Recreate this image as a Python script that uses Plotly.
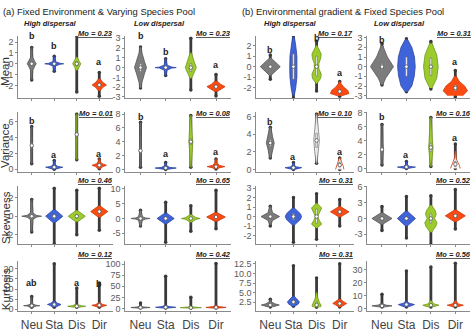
import plotly.graph_objects as go

W, H = 474, 332

categories = ["Neu", "Sta", "Dis", "Dir"]
row_titles = ["Mean", "Variance", "Skewness", "Kurtosis"]
group_titles = ["(a) Fixed Environment & Varying Species Pool",
                "(b) Environmental gradient & Fixed Species Pool"]
dispersal_titles = ["High dispersal", "Low dispersal", "High dispersal", "Low dispersal"]

# ---- stats per violin: [low, q1, median, q3, high] ; shapes: (y, half-width) ----
# Row 1: Mean
mean_fe_high_stats = [[-1.5, -0.15, 0.0, 0.15, 1.5], [-0.7, -0.05, 0.0, 0.05, 0.7],
                      [-2.6, -0.2, 0.0, 0.2, 2.6], [-3.0, -2.05, -1.95, -1.85, -0.8]]
mean_fe_high_shape = [[(-1.5, .02), (-0.6, .05), (-0.2, .14), (0, .2), (0.2, .14), (0.6, .05), (1.5, .02)],
                      [(-0.7, .02), (-0.2, .06), (-0.05, .25), (0, .42), (0.05, .25), (0.2, .06), (0.7, .02)],
                      [(-0.6, .03), (-0.2, .12), (0, .18), (0.2, .12), (0.6, .03)],
                      [(-2.5, .04), (-2.2, .15), (-1.95, .32), (-1.7, .15), (-1.4, .04)]]
mean_fe_low_stats = [[-2.1, -0.4, 0.0, 0.4, 2.1], [-0.8, -0.05, 0.0, 0.05, 0.9],
                     [-2.3, -0.4, 0.0, 0.4, 3.0], [-2.9, -2.1, -1.95, -1.8, -0.7]]
mean_fe_low_shape = [[(-2.1, .03), (-1.5, .06), (-0.6, .16), (0, .24), (0.6, .16), (1.5, .06), (2.1, .03)],
                     [(-0.8, .02), (-0.25, .06), (-0.05, .25), (0, .42), (0.05, .25), (0.25, .06), (0.9, .02)],
                     [(-1.1, .03), (-0.6, .12), (0, .22), (0.7, .12), (1.5, .03)],
                     [(-2.45, .05), (-2.2, .18), (-1.95, .36), (-1.7, .18), (-1.4, .05)]]
mean_eg_high_stats = [[-1.2, -0.2, 0.0, 0.2, 1.1], [-3.0, -1.2, 0.0, 1.2, 2.9],
                      [-2.3, -0.9, 0.0, 1.0, 2.4], [-2.8, -2.5, -2.35, -2.2, -1.4]]
mean_eg_high_shape = [[(-0.85, .02), (0, .43), (0.85, .02)],
                      [(-2.7, .04), (-2.0, .1), (-1.0, .15), (0, .16), (1.0, .15), (2.0, .1), (2.8, .04)],
                      [(-1.6, .02), (-1.1, .18), (-0.7, .2), (-0.2, .1), (0.3, .1), (0.8, .18), (1.2, .2), (1.6, .1), (2.0, .02)],
                      [(-2.75, .1), (-2.55, .4), (-2.25, .35), (-1.95, .18), (-1.6, .05), (-1.4, .02)]]
mean_eg_low_stats = [[-1.9, -0.3, 0.0, 0.3, 2.4], [-2.6, -1.0, 0.0, 1.0, 2.9],
                     [-2.3, -0.9, 0.0, 0.9, 2.6], [-3.1, -2.5, -2.2, -1.9, -0.4]]
mean_eg_low_shape = [[(-1.9, .03), (-1.2, .15), (0, .47), (1.0, .22), (2.2, .03)],
                     [(-2.6, .05), (-2.0, .22), (-1.0, .32), (0, .36), (1.0, .33), (2.0, .22), (2.8, .05)],
                     [(-2.2, .05), (-1.2, .24), (0, .3), (1.2, .24), (2.4, .05)],
                     [(-3.0, .3), (-2.5, .5), (-2.0, .38), (-1.5, .15), (-1.0, .04)]]

# Row 2: Variance
var_fe_high_stats = [[0.7, 2.7, 3.0, 3.3, 5.4], [0.0, 0.15, 0.25, 0.35, 1.1],
                     [1.2, 4.1, 4.4, 4.7, 7.0], [0.05, 0.35, 0.5, 0.65, 1.3]]
var_fe_high_shape = [[(0.7, .02), (2.2, .03), (3.0, .04), (3.8, .03), (5.4, .02)],
                     [(0.0, .05), (0.15, .2), (0.25, .38), (0.35, .15), (0.6, .04), (1.1, .02)],
                     [(1.2, .02), (3.6, .03), (4.4, .04), (5.2, .03), (7.0, .02)],
                     [(0.05, .05), (0.3, .15), (0.5, .32), (0.7, .12), (1.0, .04), (1.3, .02)]]
var_fe_low_stats = [[0.3, 2.4, 2.7, 3.0, 6.8], [0.0, 0.1, 0.2, 0.3, 1.0],
                    [0.3, 3.6, 4.0, 4.4, 7.8], [0.05, 0.25, 0.4, 0.55, 1.5]]
var_fe_low_shape = [[(0.3, .02), (1.8, .03), (2.7, .05), (3.6, .03), (6.8, .02)],
                    [(0.0, .05), (0.1, .2), (0.2, .42), (0.3, .15), (0.55, .04), (1.0, .02)],
                    [(0.3, .02), (2.8, .05), (4.0, .08), (5.2, .05), (7.8, .02)],
                    [(0.05, .05), (0.25, .15), (0.4, .35), (0.6, .12), (1.0, .04), (1.5, .02)]]
var_eg_high_stats = [[1.3, 2.6, 3.0, 3.4, 4.8], [0.0, 0.1, 0.2, 0.3, 0.8],
                     [0.7, 2.5, 3.3, 4.1, 6.3], [0.0, 0.3, 0.5, 0.8, 1.3]]
var_eg_high_shape = [[(1.3, .03), (2.3, .1), (3.0, .17), (3.7, .1), (4.8, .03)],
                     [(0.0, .05), (0.1, .2), (0.2, .36), (0.3, .12), (0.5, .04), (0.8, .02)],
                     [(0.7, .02), (2.0, .08), (3.3, .12), (4.5, .08), (6.3, .02)],
                     [(0.0, .18), (0.3, .16), (0.7, .1), (1.3, .02)]]
var_eg_low_stats = [[0.5, 2.4, 2.7, 3.0, 6.3], [0.0, 0.1, 0.2, 0.3, 1.0],
                    [0.3, 2.4, 3.0, 3.6, 7.3], [0.0, 0.3, 0.6, 1.0, 3.5]]
var_eg_low_shape = [[(0.5, .02), (1.8, .04), (2.7, .06), (3.6, .04), (6.3, .02)],
                    [(0.0, .05), (0.1, .2), (0.2, .37), (0.3, .12), (0.55, .04), (1.0, .02)],
                    [(0.3, .02), (1.8, .06), (3.0, .09), (4.2, .06), (7.3, .02)],
                    [(0.0, .2), (0.4, .17), (0.9, .1), (1.5, .03), (2.5, .01)]]

# Row 3: Skewness
skew_fe_high_stats = [[-1.7, -0.1, 0.0, 0.1, 1.8], [-3.0, -0.25, 0.0, 0.25, 3.0],
                      [-2.0, -0.2, 0.0, 0.2, 2.8], [-1.5, 0.3, 0.5, 0.7, 3.0]]
skew_fe_high_shape = [[(-1.7, .02), (-0.35, .06), (-0.1, .2), (0, .44), (0.1, .2), (0.35, .06), (1.8, .02)],
                      [(-0.7, .04), (0, .38), (0.7, .04)],
                      [(-0.6, .04), (0, .38), (0.6, .04)],
                      [(-0.1, .04), (0.5, .38), (1.1, .04)]]
skew_fe_low_stats = [[-2.5, -0.2, 0.0, 0.2, 2.8], [-8.0, -0.4, 0.0, 0.4, 5.5],
                     [-4.3, -0.3, 0.0, 0.3, 4.3], [-3.5, 0.1, 0.5, 0.9, 9.5]]
skew_fe_low_shape = [[(-2.6, .02), (-0.6, .08), (-0.2, .2), (0, .38), (0.2, .2), (0.6, .08), (2.8, .02)],
                     [(-1.8, .04), (0, .34), (1.8, .04)],
                     [(-1.3, .03), (-0.3, .2), (0, .37), (0.3, .2), (1.3, .03)],
                     [(-1.0, .04), (0.5, .37), (2.0, .04)]]
skew_eg_high_stats = [[-1.0, -0.1, 0.0, 0.1, 1.1], [-2.7, -0.3, 0.0, 0.3, 2.0],
                      [-2.4, -0.7, 0.0, 0.8, 2.4], [-1.0, 0.3, 0.5, 0.7, 1.8]]
skew_eg_high_shape = [[(-0.9, .02), (-0.4, .1), (0, .4), (0.4, .1), (1.1, .02)],
                      [(-0.9, .04), (-0.3, .3), (0, .35), (0.3, .3), (0.9, .04)],
                      [(-1.2, .02), (-0.8, .22), (-0.4, .12), (0, .05), (0.4, .12), (0.9, .22), (1.4, .02)],
                      [(-0.05, .03), (0.5, .4), (1.05, .03)]]
skew_eg_low_stats = [[-2.3, -0.2, 0.0, 0.2, 2.3], [-3.7, -0.3, 0.0, 0.3, 4.2],
                     [-5.0, -0.9, 0.0, 0.9, 4.3], [-2.0, 0.2, 0.5, 0.8, 5.5]]
skew_eg_low_shape = [[(-1.1, .03), (0, .41), (1.1, .03)],
                     [(-1.4, .04), (0, .37), (1.4, .04)],
                     [(-2.6, .03), (-1.5, .2), (-0.8, .25), (0, .15), (0.8, .22), (1.5, .18), (2.5, .03)],
                     [(-0.6, .04), (0.5, .41), (1.6, .04)]]

# Row 4: Kurtosis
kurt_fe_high_stats = [[1.0, 1.6, 1.8, 2.0, 6.3], [1.0, 2.0, 2.4, 3.0, 22.5],
                      [1.0, 1.3, 1.5, 1.7, 10.5], [1.0, 1.7, 2.0, 2.4, 13.0]]
kurt_fe_high_shape = [[(1.0, .05), (1.6, .2), (1.8, .36), (2.0, .2), (2.6, .04), (6.3, .01)],
                      [(1.0, .05), (2.0, .2), (2.4, .3), (3.0, .15), (4.0, .04)],
                      [(1.0, .1), (1.3, .3), (1.5, .4), (1.8, .2), (2.5, .04)],
                      [(1.0, .05), (1.7, .2), (2.0, .33), (2.4, .15), (3.2, .04)]]
kurt_fe_low_stats = [[1.0, 1.6, 2.0, 2.6, 12.0], [1.0, 2.0, 2.5, 3.0, 73.0],
                     [1.0, 1.3, 1.5, 1.8, 25.0], [1.0, 1.7, 2.2, 2.8, 102.0]]
kurt_fe_low_shape = [[(0.5, .05), (1.5, .3), (2.0, .38), (3.0, .15), (5.0, .03)],
                     [(0.5, .05), (1.5, .25), (2.5, .4), (4.0, .15), (7.0, .03)],
                     [(0.5, .05), (1.2, .3), (1.6, .42), (3.0, .12), (5.0, .02)],
                     [(0.5, .05), (1.5, .3), (2.2, .4), (4.0, .12), (7.0, .02)]]
kurt_eg_high_stats = [[1.3, 1.6, 1.8, 2.0, 3.3], [1.5, 2.2, 2.6, 3.0, 12.0],
                      [1.2, 1.5, 1.8, 2.6, 8.8], [1.3, 1.9, 2.2, 2.6, 12.5]]
kurt_eg_high_shape = [[(1.3, .1), (1.6, .3), (1.8, .39), (2.1, .2), (2.6, .05), (3.3, .01)],
                      [(1.5, .05), (2.0, .2), (2.6, .26), (3.2, .18), (4.0, .05)],
                      [(1.2, .15), (1.6, .2), (2.5, .12), (3.5, .06), (5.0, .02)],
                      [(1.3, .05), (1.9, .2), (2.2, .3), (2.6, .18), (3.3, .04)]]
kurt_eg_low_stats = [[1.0, 1.6, 2.0, 2.4, 11.0], [1.0, 2.3, 3.0, 3.6, 29.0],
                     [1.0, 1.8, 2.5, 3.0, 32.0], [1.0, 2.0, 2.5, 3.0, 35.0]]
kurt_eg_low_shape = [[(1.0, .05), (1.6, .3), (2.0, .41), (2.6, .15), (4.0, .02)],
                     [(1.0, .05), (2.3, .25), (3.0, .33), (4.0, .12), (6.0, .02)],
                     [(1.0, .05), (1.8, .25), (2.5, .33), (3.5, .12), (6.0, .02)],
                     [(1.0, .05), (2.0, .25), (2.5, .33), (3.5, .12), (6.0, .02)]]

# ---- axis ranges and ticks ----
y_ranges = [[[-3.16, 2.54], [-3.11, 3.2], [-2.97, 2.88], [-3.24, 3.14]],
            [[-0.36, 7.23], [-0.37, 8.26], [-0.29, 6.5], [-0.5, 8.04]],
            [[-3.0, 3.23], [-8.65, 10.9], [-2.9, 3.2], [-4.86, 6.13]],
            [[-1.06, 23.8], [-7.0, 107.0], [0.12, 13.2], [-2.36, 36.6]]]
y_ticks = [[[-2, -1, 0, 1, 2], [-3, -2, -1, 0, 1, 2, 3], [-2, -1, 0, 1, 2], [-3, -2, -1, 0, 1, 2, 3]],
           [[0, 2, 4, 6], [0, 2, 4, 6, 8], [0, 2, 4, 6], [0, 2, 4, 6, 8]],
           [[-2, 0, 2], [-5, 0, 5, 10], [-3, -2, -1, 0, 1, 2, 3], [-3, 0, 3, 6]],
           [[0, 5, 10, 15, 20], [0, 25, 50, 75, 100], [2.5, 5.0, 7.5, 10.0, 12.5], [0, 10, 20, 30]]]
y_ticktext = [[["-2", "-1", "0", "1", "2"], ["-3", "-2", "-1", "0", "1", "2", "3"],
               ["-2", "-1", "0", "1", "2"], ["-3", "-2", "-1", "0", "1", "2", "3"]],
              [["0", "2", "4", "6"], ["0", "2", "4", "6", "8"], ["0", "2", "4", "6"], ["0", "2", "4", "6", "8"]],
              [["-2", "0", "2"], ["-5", "0", "5", "10"], ["-3", "-2", "-1", "0", "1", "2", "3"], ["-3", "0", "3", "6"]],
              [["0", "5", "10", "15", "20"], ["0", "25", "50", "75", "100"],
               ["2.5", "5.0", "7.5", "10.0", "12.5"], ["0", "10", "20", "30"]]]

# ---- significance letters: (x, y, text) ----
letters = [[[(1, 2.54, "b"), (2, 1.67, "b"), (3, 2.63, "b"), (4, 0.18, "a")],
            [(1, 3.2, "b"), (2, 1.55, "b"), (3, 3.3, "b"), (4, 0.29, "a")],
            [(1, 1.62, "b"), (2, 2.97, "ab"), (3, 2.7, "b"), (4, -0.63, "a")],
            [(1, 2.75, "b"), (2, 3.24, "ab"), (3, 3.24, "ab"), (4, 0.49, "a")]],
           [[(1, 6.14, "b"), (2, 1.8, "a"), (3, 7.6, "c"), (4, 1.93, "a")],
            [(1, 7.58, "b"), (2, 2.23, "a"), (3, 8.67, "b"), (4, 2.5, "a")],
            [(1, 5.43, "b"), (2, 1.43, "a"), (3, 6.83, "b"), (4, 1.97, "a")],
            [(1, 7.34, "b"), (2, 1.93, "a"), (3, 8.42, "ab"), (4, 4.36, "a")]],
           [[(0.84, 3.44, "NS")], [(0.98, 11.5, "NS")], [(0.86, 3.5, "NS")], [(0.92, 6.85, "NS")]],
           [[(1, 13.2, "ab"), (2, 26.1, "b"), (3, 13.2, "a"), (4, 12.3, "b")],
            [(0.98, 117.5, "NS")], [(1.15, 14.4, "NS")], [(0.92, 39.8, "NS")]]]

mo_values = [["0.23", "0.23", "0.17", "0.31"],
             ["0.01", "0.08", "0.10", "0.16"],
             ["0.46", "0.65", "0.31", "0.52"],
             ["0.12", "0.42", "0.31", "0.56"]]

stats_grid = [[mean_fe_high_stats, mean_fe_low_stats, mean_eg_high_stats, mean_eg_low_stats],
              [var_fe_high_stats, var_fe_low_stats, var_eg_high_stats, var_eg_low_stats],
              [skew_fe_high_stats, skew_fe_low_stats, skew_eg_high_stats, skew_eg_low_stats],
              [kurt_fe_high_stats, kurt_fe_low_stats, kurt_eg_high_stats, kurt_eg_low_stats]]
shape_grid = [[mean_fe_high_shape, mean_fe_low_shape, mean_eg_high_shape, mean_eg_low_shape],
              [var_fe_high_shape, var_fe_low_shape, var_eg_high_shape, var_eg_low_shape],
              [skew_fe_high_shape, skew_fe_low_shape, skew_eg_high_shape, skew_eg_low_shape],
              [kurt_fe_high_shape, kurt_fe_low_shape, kurt_eg_high_shape, kurt_eg_low_shape]]

# ---- styling / layout (pixels) ----
FILL = ["#7c7c7c", "#3f63d8", "#9bcc2c", "#fb4a12"]
EDGE = ["#555555", "#2c45a0", "#6e9420", "#c83a0c"]
HOLLOW = {(1, 2, 2), (1, 2, 3), (1, 3, 3)}
COL_PX = [(18.2, 112.8), (125.4, 231.1), (256.4, 353.6), (367.3, 470.0)]
ROW_PX = [(33, 98), (113, 176), (191, 252), (270, 323)]
FONT = "Liberation Sans, Arial, sans-serif"

fig = go.Figure()
annotations = []
layout_axes = {}

for r in range(4):
    for c in range(4):
        k = r * 4 + c + 1
        xa = "x" if k == 1 else f"x{k}"
        ya = "y" if k == 1 else f"y{k}"
        x0, x1 = COL_PX[c]
        y0, y1 = ROW_PX[r]
        layout_axes["xaxis" if k == 1 else f"xaxis{k}"] = dict(
            domain=[x0 / W, x1 / W], anchor=ya, range=[0.4, 4.6],
            tickvals=[1, 2, 3, 4], ticktext=categories if r == 3 else ["", "", "", ""],
            showticklabels=(r == 3), tickangle=0, showline=True, linecolor="#8a8a8a", linewidth=1,
            ticks="outside", ticklen=2, tickcolor="#8a8a8a", showgrid=False, zeroline=False,
            tickfont=dict(family=FONT, size=12, color="#444444"), fixedrange=True)
        layout_axes["yaxis" if k == 1 else f"yaxis{k}"] = dict(
            domain=[1 - y1 / H, 1 - y0 / H], anchor=xa, range=y_ranges[r][c],
            tickvals=y_ticks[r][c], ticktext=y_ticktext[r][c],
            showline=True, linecolor="#8a8a8a", linewidth=1, ticks="outside", ticklen=2,
            tickcolor="#8a8a8a", showgrid=False, zeroline=False,
            tickfont=dict(family=FONT, size=9, color="#5a5a5a"), fixedrange=True)

        for i in range(4):
            pos = i + 1
            lo, q1, med, q3, hi = stats_grid[r][c][i]
            prof = shape_grid[r][c][i]
            # whisker / outlier spread
            fig.add_trace(go.Scatter(
                x=[pos, pos], y=[lo, hi], xaxis=xa, yaxis=ya, mode="lines+markers",
                line=dict(color="#3a3a3a", width=2.8), marker=dict(size=3.5, color="#3a3a3a"),
                hoverinfo="skip", showlegend=False))
            # violin body
            vx = [pos + w for (_, w) in prof] + [pos - w for (_, w) in prof[::-1]]
            vy = [y for (y, _) in prof] + [y for (y, _) in prof[::-1]]
            hollow = (r, c, i) in HOLLOW
            fig.add_trace(go.Scatter(
                x=vx, y=vy, xaxis=xa, yaxis=ya, mode="lines", fill="toself",
                fillcolor="rgba(255,255,255,0.9)" if hollow else FILL[i],
                line=dict(color=EDGE[i] if not hollow or i == 3 else "#777777", width=0.8),
                hoverinfo="skip", showlegend=False))
            # inner box
            bw = 0.035
            fig.add_trace(go.Scatter(
                x=[pos - bw, pos + bw, pos + bw, pos - bw, pos - bw],
                y=[q1, q1, q3, q3, q1], xaxis=xa, yaxis=ya, mode="lines", fill="toself",
                fillcolor="white", line=dict(color="#666666", width=0.6),
                hoverinfo="skip", showlegend=False))
            fig.add_trace(go.Scatter(
                x=[pos], y=[med], xaxis=xa, yaxis=ya, mode="markers",
                marker=dict(size=3.5, color="white", line=dict(color="#555555", width=0.8)),
                hoverinfo="skip", showlegend=False))

        for (lx, ly, txt) in letters[r][c]:
            annotations.append(dict(x=lx, y=ly, xref=xa, yref=ya, text=f"<b>{txt}</b>",
                                    showarrow=False, font=dict(family=FONT, size=9, color="#222222"),
                                    xanchor="center", yanchor="middle"))

# Mo annotations (right-aligned to each panel's right edge)
MO_XR = [115, 233, 355, 473]
MO_Y = [30, 114, 185, 263]
for r in range(4):
    for c in range(4):
        annotations.append(dict(x=MO_XR[c] / W, y=1 - MO_Y[r] / H, xref="paper", yref="paper",
                                text=f"<b><i><u>Mo = {mo_values[r][c]}</u></i></b>", showarrow=False,
                                font=dict(family=FONT, size=7.5, color="#222222"),
                                xanchor="right", yanchor="middle"))

# Row titles
ROW_TITLE_Y = [70, 148, 224, 300]
for r in range(4):
    annotations.append(dict(x=5.5 / W, y=1 - ROW_TITLE_Y[r] / H, xref="paper", yref="paper",
                            text=row_titles[r], textangle=-90, showarrow=False,
                            font=dict(family=FONT, size=11.5, color="#333333"),
                            xanchor="center", yanchor="middle"))

# Group titles
for gx, gt in zip([1, 240], group_titles):
    annotations.append(dict(x=gx / W, y=1 - 7 / H, xref="paper", yref="paper", text=gt,
                            showarrow=False, font=dict(family=FONT, size=9.4, color="#222222"),
                            xanchor="left", yanchor="middle"))

# Dispersal subtitles
for dx, dt in zip([22, 132, 262, 372], dispersal_titles):
    annotations.append(dict(x=dx / W, y=1 - 20 / H, xref="paper", yref="paper",
                            text=f"<b><i>{dt}</i></b>", showarrow=False,
                            font=dict(family=FONT, size=7.5, color="#222222"),
                            xanchor="left", yanchor="middle"))

fig.update_layout(width=W, height=H, margin=dict(l=0, r=0, t=0, b=0),
                  paper_bgcolor="white", plot_bgcolor="white", showlegend=False,
                  annotations=annotations, **layout_axes)

fig.write_html("out.html", config={"displayModeBar": False})
